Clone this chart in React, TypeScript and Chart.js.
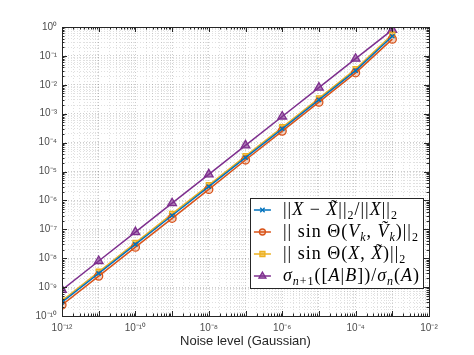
import React, { useEffect, useRef } from "react";
import { Chart, registerables } from "chart.js";
Chart.register(...registerables);

// ---- data ----
const noiseLevels = [1e-12, 1e-11, 1e-10, 1e-9, 1e-8, 1e-7, 1e-6, 1e-5, 1e-4, 1e-3];
const relErr = [3.0e-10, 3.0e-9, 3.0e-8, 3.0e-7, 3.0e-6, 3.0e-5, 3.0e-4, 3.0e-3, 3.1e-2, 0.48];
const sinThetaV = [2.4e-10, 2.4e-9, 2.4e-8, 2.4e-7, 2.4e-6, 2.5e-5, 2.5e-4, 2.5e-3, 2.6e-2, 0.38];
const sinThetaX = [3.4e-10, 3.4e-9, 3.4e-8, 3.4e-7, 3.4e-6, 3.4e-5, 3.4e-4, 3.4e-3, 3.5e-2, 0.55];
const sigmaRatio = [8.0e-10, 8.0e-9, 8.0e-8, 8.0e-7, 8.0e-6, 8.0e-5, 8.0e-4, 8.0e-3, 8.0e-2, 0.8];
const xLabelExponents = [-12, -10, -8, -6, -4, -2];
const yLabelExponents = [-10, -9, -8, -7, -6, -5, -4, -3, -2, -1, 0];
const xTitle = "Noise level (Gaussian)";

const COLORS = ["#0072BD", "#D95319", "#EDB120", "#7E2F8E"];
const MARKERS = ["crossRot", "circle", "rect", "triangle"];

type Seg = { t: string; i?: boolean; sub?: boolean };
const legendRows: Seg[][] = [
  [{ t: "||" }, { t: "X", i: true }, { t: " − " }, { t: "X\u0303", i: true }, { t: "||" }, { t: "2", sub: true }, { t: "/||" }, { t: "X", i: true }, { t: "||" }, { t: "2", sub: true }],
  [{ t: "|| sin Θ(" }, { t: "V", i: true }, { t: "k", i: true, sub: true }, { t: ", " }, { t: "V\u0303", i: true }, { t: "k", i: true, sub: true }, { t: ")||" }, { t: "2", sub: true }],
  [{ t: "|| sin Θ(" }, { t: "X", i: true }, { t: ", " }, { t: "X\u0303", i: true }, { t: ")||" }, { t: "2", sub: true }],
  [{ t: "σ", i: true }, { t: "n", i: true, sub: true }, { t: "+1", sub: true }, { t: "([" }, { t: "A", i: true }, { t: "|" }, { t: "B", i: true }, { t: "])/" }, { t: "σ", i: true }, { t: "n", i: true, sub: true }, { t: "(" }, { t: "A", i: true }, { t: ")" }],
];

const SUP: Record<string, string> = { "-": "⁻", "0": "⁰", "1": "¹", "2": "²", "3": "³", "4": "⁴", "5": "⁵", "6": "⁶", "7": "⁷", "8": "⁸", "9": "⁹" };
const pow10Label = (e: number) => "10" + String(e).split("").map((c) => SUP[c]).join("");

const logTicks = (minE: number, maxE: number) => {
  const out: { value: number }[] = [];
  for (let e = minE; e < maxE; e++) for (let s = 1; s <= 9; s++) out.push({ value: s * Math.pow(10, e) });
  out.push({ value: Math.pow(10, maxE) });
  return out;
};
const expOf = (v: number) => Math.round(Math.log10(v));
const isPow10 = (v: number) => Math.abs(Math.log10(v) - Math.round(Math.log10(v))) < 1e-9;

const AXIS_COLOR = "#262626";
const LABEL_COLOR = "#4d4d4d";

const drawMarker = (ctx: CanvasRenderingContext2D, kind: string, x: number, y: number, color: string) => {
  ctx.save();
  ctx.strokeStyle = color;
  ctx.lineWidth = 1.3;
  ctx.beginPath();
  if (kind === "crossRot") {
    const r = 2.2;
    ctx.moveTo(x - r, y - r); ctx.lineTo(x + r, y + r);
    ctx.moveTo(x + r, y - r); ctx.lineTo(x - r, y + r);
    ctx.stroke();
  } else if (kind === "circle") {
    ctx.arc(x, y, 3, 0, Math.PI * 2);
    ctx.fillStyle = "rgba(217,83,25,0.25)";
    ctx.fill(); ctx.stroke();
  } else if (kind === "rect") {
    ctx.rect(x - 2.5, y - 2.5, 5, 5);
    ctx.fillStyle = "rgba(237,177,32,0.6)";
    ctx.fill(); ctx.stroke();
  } else {
    ctx.moveTo(x, y - 4); ctx.lineTo(x + 3.5, y + 2.2); ctx.lineTo(x - 3.5, y + 2.2); ctx.closePath();
    ctx.fillStyle = "rgba(126,47,142,0.6)";
    ctx.fill(); ctx.stroke();
  }
  ctx.restore();
};

const framePlugin = {
  id: "frameTicks",
  afterDraw(chart: any) {
    const { ctx, chartArea: a } = chart;
    ctx.save();
    ctx.strokeStyle = AXIS_COLOR;
    ctx.lineWidth = 1;
    ctx.strokeRect(Math.round(a.left) + 0.5, Math.round(a.top) + 0.5, Math.round(a.right - a.left), Math.round(a.bottom - a.top));
    ctx.beginPath();
    for (const t of chart.scales.x.ticks) {
      const px = Math.round(chart.scales.x.getPixelForValue(t.value)) + 0.5;
      const len = isPow10(t.value) ? 5 : 2.5;
      ctx.moveTo(px, a.bottom); ctx.lineTo(px, a.bottom - len);
      ctx.moveTo(px, a.top); ctx.lineTo(px, a.top + len);
    }
    for (const t of chart.scales.y.ticks) {
      const py = Math.round(chart.scales.y.getPixelForValue(t.value)) + 0.5;
      const len = isPow10(t.value) ? 5 : 2.5;
      ctx.moveTo(a.left, py); ctx.lineTo(a.left + len, py);
      ctx.moveTo(a.right, py); ctx.lineTo(a.right - len, py);
    }
    ctx.stroke();
    ctx.restore();
  },
};

const legendPlugin = {
  id: "mathLegend",
  afterDraw(chart: any) {
    const { ctx, chartArea: a } = chart;
    const size = 18;
    const subSize = 12;
    const fam = '"Liberation Serif", "DejaVu Serif", serif';
    const rowH = 22;
    const pad = 1;
    const sampleW = 17;
    const gap = 12;
    ctx.save();
    (ctx as any).letterSpacing = "1px";
    const measureRow = (row: Seg[]) => {
      let w = 0;
      for (const s of row) {
        ctx.font = `${s.i ? "italic " : ""}${s.sub ? subSize : size}px ${fam}`;
        w += ctx.measureText(s.t).width;
      }
      return w;
    };
    const textW = Math.max(...legendRows.map(measureRow));
    const boxW = 4 + sampleW + gap + textW + 3;
    const boxH = rowH * legendRows.length + 2 * pad;
    const right = a.right - 6;
    const bottom = a.bottom - 28;
    const left = right - boxW;
    const top = bottom - boxH;
    ctx.fillStyle = "#ffffff";
    ctx.fillRect(left, top, boxW, boxH);
    ctx.strokeStyle = AXIS_COLOR;
    ctx.lineWidth = 1;
    ctx.strokeRect(Math.round(left) + 0.5, Math.round(top) + 0.5, Math.round(boxW), Math.round(boxH));
    legendRows.forEach((row, i) => {
      const cy = top + pad + rowH * i + rowH / 2;
      const lx = left + 4;
      ctx.strokeStyle = COLORS[i];
      ctx.lineWidth = 1.5;
      ctx.beginPath();
      ctx.moveTo(lx, cy); ctx.lineTo(lx + sampleW, cy);
      ctx.stroke();
      drawMarker(ctx, MARKERS[i], lx + sampleW / 2, cy, COLORS[i]);
      let x = lx + sampleW + gap;
      ctx.fillStyle = "#000000";
      ctx.textBaseline = "alphabetic";
      const base = cy + size * 0.3;
      for (const s of row) {
        ctx.font = `${s.i ? "italic " : ""}${s.sub ? subSize : size}px ${fam}`;
        ctx.fillText(s.t, x, s.sub ? base + 4 : base);
        x += ctx.measureText(s.t).width;
      }
    });
    ctx.restore();
  },
};

export default function App() {
  const ref = useRef<HTMLCanvasElement | null>(null);
  useEffect(() => {
    document.body.style.margin = "0";
    const canvas = ref.current!;
    const names = ["relErr", "sinThetaV", "sinThetaX", "sigmaRatio"];
    const series = [relErr, sinThetaV, sinThetaX, sigmaRatio];
    const chart = new Chart(canvas, {
      type: "line",
      data: {
        datasets: series.map((s, i) => ({
          label: names[i],
          data: noiseLevels.map((x, j) => ({ x, y: s[j] })),
          borderColor: COLORS[i],
          backgroundColor: ["rgba(0,0,0,0)", "rgba(217,83,25,0.25)", "rgba(237,177,32,0.6)", "rgba(126,47,142,0.6)"][i],
          borderWidth: 1.5,
          pointStyle: MARKERS[i] as any,
          pointRadius: [3, 4, 3.5, 5][i],
          pointBorderWidth: 1.3,
          pointBorderColor: COLORS[i],
          tension: 0,
        })),
      },
      options: {
        animation: false,
        responsive: false,
        events: [],
        layout: { padding: { left: 0, right: 45, top: 27, bottom: 0 } },
        plugins: { legend: { display: false }, tooltip: { enabled: false } },
        scales: {
          x: {
            type: "logarithmic",
            min: 1e-12,
            max: 1e-2,
            afterBuildTicks: (s: any) => { s.ticks = logTicks(-12, -2); },
            afterFit: (s: any) => { s.height = 39; },
            grid: {
              drawTicks: false,
              color: (c: any) => (c.tick && isPow10(c.tick.value) ? "rgba(0,0,0,0.2)" : "rgba(0,0,0,0.12)"),
              lineWidth: 1,
            },
            border: { display: false, dash: [1, 2] },
            ticks: {
              autoSkip: false,
              maxRotation: 0,
              padding: 6,
              color: LABEL_COLOR,
              font: { family: '"Liberation Sans", Arial, sans-serif', size: 10 },
              callback: (v: any) => {
                const n = Number(v);
                return isPow10(n) && xLabelExponents.includes(expOf(n)) ? pow10Label(expOf(n)) : "";
              },
            },
            title: {
              display: true,
              text: xTitle,
              color: AXIS_COLOR,
              font: { family: '"Liberation Sans", Arial, sans-serif', size: 13 },
              padding: { top: 0, bottom: 6 },
            },
          },
          y: {
            type: "logarithmic",
            min: 1e-10,
            max: 1,
            afterBuildTicks: (s: any) => { s.ticks = logTicks(-10, 0); },
            afterFit: (s: any) => { s.width = 62; },
            grid: {
              drawTicks: false,
              color: (c: any) => (c.tick && isPow10(c.tick.value) ? "rgba(0,0,0,0.2)" : "rgba(0,0,0,0.12)"),
              lineWidth: 1,
            },
            border: { display: false, dash: [1, 2] },
            ticks: {
              autoSkip: false,
              padding: 5,
              color: LABEL_COLOR,
              font: { family: '"Liberation Sans", Arial, sans-serif', size: 10 },
              callback: (v: any) => {
                const n = Number(v);
                return isPow10(n) && yLabelExponents.includes(expOf(n)) ? pow10Label(expOf(n)) : "";
              },
            },
          },
        },
      },
      plugins: [framePlugin, legendPlugin],
    });
    return () => chart.destroy();
  }, []);
  return (
    <div style={{ width: 474, height: 355, background: "#ffffff" }}>
      <canvas ref={ref} width={474} height={355} style={{ display: "block" }} />
    </div>
  );
}
